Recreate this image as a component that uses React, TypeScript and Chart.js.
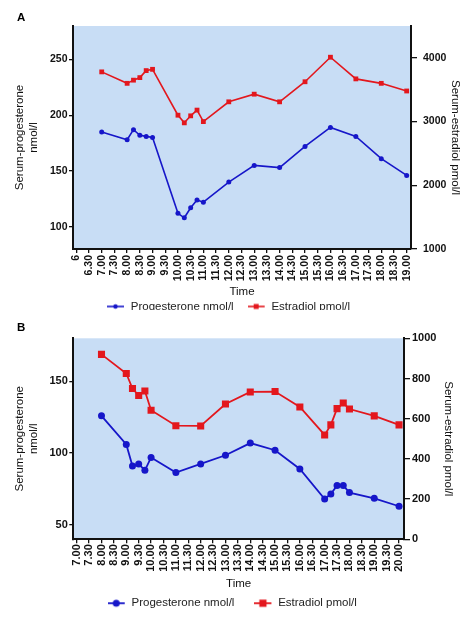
import React, { useEffect, useRef } from 'react';
import { Chart, registerables } from 'chart.js';

Chart.register(...registerables);

const FONT = 'Arial, "Liberation Sans", Helvetica, sans-serif';
const BLUE = '#1616c9';
const RED = '#e3171d';
const PLOT_BG = '#c8ddf5';
const INK = '#111';

// ---- panel A ----
const timeA = [7, 8, 8.25, 8.5, 8.75, 9, 10, 10.25, 10.5, 10.75, 11, 12, 13, 14, 15, 16, 17, 18, 19];
const progesteroneA = [185, 178, 187, 182, 181, 180, 112, 108, 117, 124, 122, 140, 155, 153, 172, 189, 181, 161, 146];
const estradiolA = [3780, 3600, 3650, 3690, 3800, 3820, 3100, 2980, 3090, 3180, 3000, 3310, 3430, 3310, 3625, 4010, 3670, 3600, 3480];
const timeLabelsA = [
  '6', '6.30', '7.00', '7.30', '8.00', '8.30', '9.00', '9.30', '10.00', '10.30', '11.00', '11.30', '12.00', '12.30',
  '13.00', '13.30', '14.00', '14.30', '15.00', '15.30', '16.00', '16.30', '17.00', '17.30', '18.00', '18.30', '19.00',
];
const progTicksA = [100, 150, 200, 250];
const estrTicksA = [1000, 2000, 3000, 4000];

// ---- panel B ----
const timeB = [8, 9, 9.25, 9.5, 9.75, 10, 11, 12, 13, 14, 15, 16, 17, 17.25, 17.5, 17.75, 18, 19, 20];
const progesteroneB = [126, 106, 91, 92.5, 88, 97, 86.5, 92.5, 98.5, 107, 102, 89, 68, 71.5, 77.5, 77.5, 72.5, 68.5, 63];
const estradiolB = [920, 825, 750, 715, 738, 642, 565, 564, 673, 733, 735, 658, 519, 569, 650, 678, 648, 614, 569];
const timeLabelsB = [
  '7.00', '7.30', '8.00', '8.30', '9.00', '9.30', '10.00', '10.30', '11.00', '11.30', '12.00', '12.30', '13.00', '13.30',
  '14.00', '14.30', '15.00', '15.30', '16.00', '16.30', '17.00', '17.30', '18.00', '18.30', '19.00', '19.30', '20.00',
];
const progTicksB = [50, 100, 150];
const estrTicksB = [0, 200, 400, 600, 800, 1000];

const seriesNames = ['Progesterone nmol/l', 'Estradiol pmol/l'];

// "8.30" -> 8.5
const labelToHour = (s: string) => {
  const [h, m = '0'] = s.split('.');
  return Number(h) + Number(m) / 60;
};

function legendIcon(color: string, style: 'circle' | 'rect', r: number, lw: number) {
  const c = document.createElement('canvas');
  c.width = 18;
  c.height = 12;
  const ctx = c.getContext('2d')!;
  ctx.strokeStyle = color;
  ctx.fillStyle = color;
  ctx.lineWidth = lw;
  ctx.beginPath();
  ctx.moveTo(0, 6);
  ctx.lineTo(17, 6);
  ctx.stroke();
  ctx.beginPath();
  if (style === 'circle') ctx.arc(8.5, 6, r, 0, Math.PI * 2);
  else ctx.rect(8.5 - r, 6 - r, 2 * r, 2 * r);
  ctx.fill();
  return c;
}

const plotBg = {
  id: 'plotBg',
  beforeDraw(chart: any) {
    const { ctx, chartArea: a } = chart;
    ctx.save();
    ctx.fillStyle = PLOT_BG;
    ctx.fillRect(a.left, a.top, a.right - a.left, a.bottom - a.top);
    ctx.restore();
  },
};

type Spec = {
  times: number[];
  prog: number[];
  estr: number[];
  xLabels: string[];
  progTicks: number[];
  estrTicks: number[];
  xRange: [number, number];
  progRange: [number, number];
  estrRange: [number, number];
  height: number;
  pad: { top: number; right: number; bottom: number; left: number };
  leftW: number;
  rightW: number;
  xH: number;
  xTitlePad: number;
  rightTitlePad: number;
  legendPad: number;
  tickSize: number;
  xTick: [number, number];
  leftTick: [number, number];
  rightTick: [number, number];
  circleR: number;
  rectR: number;
  lineW: number;
  iconCircle: number;
  iconRect: number;
};

function buildConfig(s: Spec): any {
  const tickFont = { family: FONT, size: s.tickSize, weight: 'bold' as const };
  const titleFont = { family: FONT, size: 11.5, lineHeight: 1.2 };
  const axisBorder = { display: true, color: INK, width: 2 };
  const tickGrid = (len: number) => ({ drawOnChartArea: false, drawTicks: true, tickLength: len, color: INK, lineWidth: 1.3 });
  const icons = [
    legendIcon(BLUE, 'circle', s.iconCircle, s.lineW),
    legendIcon(RED, 'rect', s.iconRect, s.lineW),
  ];
  const xTickValues = s.xLabels.map(labelToHour);

  return {
    type: 'line',
    data: {
      datasets: [
        {
          label: seriesNames[0],
          data: s.times.map((t, i) => ({ x: t, y: s.prog[i] })),
          yAxisID: 'yL',
          borderColor: BLUE,
          backgroundColor: BLUE,
          pointBackgroundColor: BLUE,
          pointBorderColor: BLUE,
          borderWidth: s.lineW,
          pointStyle: 'circle',
          pointRadius: s.circleR,
          pointBorderWidth: 0,
          tension: 0,
        },
        {
          label: seriesNames[1],
          data: s.times.map((t, i) => ({ x: t, y: s.estr[i] })),
          yAxisID: 'yR',
          borderColor: RED,
          backgroundColor: RED,
          pointBackgroundColor: RED,
          pointBorderColor: RED,
          borderWidth: s.lineW,
          pointStyle: 'rect',
          pointRadius: s.rectR,
          pointBorderWidth: 0,
          tension: 0,
        },
      ],
    },
    options: {
      responsive: false,
      animation: false,
      events: [],
      layout: { padding: s.pad },
      scales: {
        x: {
          type: 'linear',
          min: s.xRange[0],
          max: s.xRange[1],
          afterBuildTicks: (sc: any) => {
            sc.ticks = xTickValues.map((v) => ({ value: v }));
          },
          afterFit: (sc: any) => {
            sc.height = s.xH;
          },
          ticks: {
            autoSkip: false,
            minRotation: 90,
            maxRotation: 90,
            padding: s.xTick[1],
            color: INK,
            font: tickFont,
            callback: (_v: number, i: number) => s.xLabels[i],
          },
          grid: tickGrid(s.xTick[0]),
          border: axisBorder,
          title: { display: true, text: 'Time', color: INK, font: titleFont, padding: { top: 0, bottom: s.xTitlePad } },
        },
        yL: {
          type: 'linear',
          position: 'left',
          min: s.progRange[0],
          max: s.progRange[1],
          afterBuildTicks: (sc: any) => {
            sc.ticks = s.progTicks.map((v) => ({ value: v }));
          },
          afterFit: (sc: any) => {
            sc.width = s.leftW;
          },
          ticks: { padding: s.leftTick[1], color: INK, font: tickFont, callback: (v: number) => String(v) },
          grid: tickGrid(s.leftTick[0]),
          border: axisBorder,
          title: {
            display: true,
            text: ['Serum-progesterone', 'nmol/l'],
            color: INK,
            font: titleFont,
            padding: { top: 13, bottom: 0 },
          },
        },
        yR: {
          type: 'linear',
          position: 'right',
          min: s.estrRange[0],
          max: s.estrRange[1],
          afterBuildTicks: (sc: any) => {
            sc.ticks = s.estrTicks.map((v) => ({ value: v }));
          },
          afterFit: (sc: any) => {
            sc.width = s.rightW;
          },
          ticks: { padding: s.rightTick[1], color: INK, font: tickFont, callback: (v: number) => String(v) },
          grid: tickGrid(s.rightTick[0]),
          border: axisBorder,
          title: {
            display: true,
            text: 'Serum-estradiol pmol/l',
            color: INK,
            font: titleFont,
            padding: { top: s.rightTitlePad, bottom: 0 },
          },
        },
      },
      plugins: {
        tooltip: { enabled: false },
        legend: {
          position: 'bottom',
          labels: {
            usePointStyle: true,
            pointStyleWidth: 18,
            padding: s.legendPad,
            color: '#222',
            font: { family: FONT, size: 11.5 },
            generateLabels: (chart: any) => {
              const items = Chart.defaults.plugins.legend.labels.generateLabels(chart);
              items.forEach((it: any, i: number) => {
                it.pointStyle = icons[i];
              });
              return items;
            },
          },
        },
      },
    },
    plugins: [plotBg],
  };
}

const specA: Spec = {
  times: timeA,
  prog: progesteroneA,
  estr: estradiolA,
  xLabels: timeLabelsA,
  progTicks: progTicksA,
  estrTicks: estrTicksA,
  xRange: [5.87, 19.17],
  progRange: [80, 280],
  estrRange: [1000, 4500],
  height: 323,
  pad: { top: 26, right: 17, bottom: 0.75, left: 0 },
  leftW: 73,
  rightW: 46,
  xH: 37.75,
  xTitlePad: -12.15,
  rightTitlePad: -4.9,
  legendPad: 14,
  tickSize: 10.5,
  xTick: [4, 2],
  leftTick: [4, 1.5],
  rightTick: [6, 6],
  circleR: 2.5,
  rectR: 3.4,
  lineW: 1.6,
  iconCircle: 2.3,
  iconRect: 2.5,
};

const specB: Spec = {
  times: timeB,
  prog: progesteroneB,
  estr: estradiolB,
  xLabels: timeLabelsB,
  progTicks: progTicksB,
  estrTicks: estrTicksB,
  xRange: [6.863, 20.2],
  progRange: [40, 180],
  estrRange: [0, 1000],
  height: 317,
  pad: { top: 28.3, right: 9.5, bottom: 8, left: 0 },
  leftW: 73.3,
  rightW: 60.5,
  xH: 38.25,
  xTitlePad: -13.35,
  rightTitlePad: 9.1,
  legendPad: 20,
  tickSize: 11,
  xTick: [4, 1],
  leftTick: [4, 1.5],
  rightTick: [6, 2],
  circleR: 3.5,
  rectR: 5,
  lineW: 1.8,
  iconCircle: 3.5,
  iconRect: 3.6,
};

function Panel({ spec, top, clip, letter }: { spec: Spec; top: number; clip: number; letter: string }) {
  const canvasRef = useRef<HTMLCanvasElement | null>(null);

  useEffect(() => {
    const canvas = canvasRef.current;
    if (!canvas) return;
    const chart = new Chart(canvas, buildConfig(spec));
    return () => chart.destroy();
  }, [spec]);

  return (
    <div style={{ position: 'absolute', left: 0, top, width: 474, height: clip, overflow: 'hidden' }}>
      <canvas ref={canvasRef} width={474} height={spec.height} style={{ width: 474, height: spec.height, display: 'block' }} />
      <div
        style={{
          position: 'absolute',
          left: 17,
          top: 11,
          fontFamily: FONT,
          fontWeight: 'bold',
          fontSize: 11.5,
          lineHeight: '12px',
          color: '#000',
        }}
      >
        {letter}
      </div>
    </div>
  );
}

export default function App() {
  return (
    <div style={{ position: 'fixed', left: 0, top: 0, width: 474, height: 627, background: '#fff', overflow: 'hidden' }}>
      <Panel spec={specA} top={0} clip={310} letter="A" />
      <Panel spec={specB} top={310} clip={317} letter="B" />
    </div>
  );
}
